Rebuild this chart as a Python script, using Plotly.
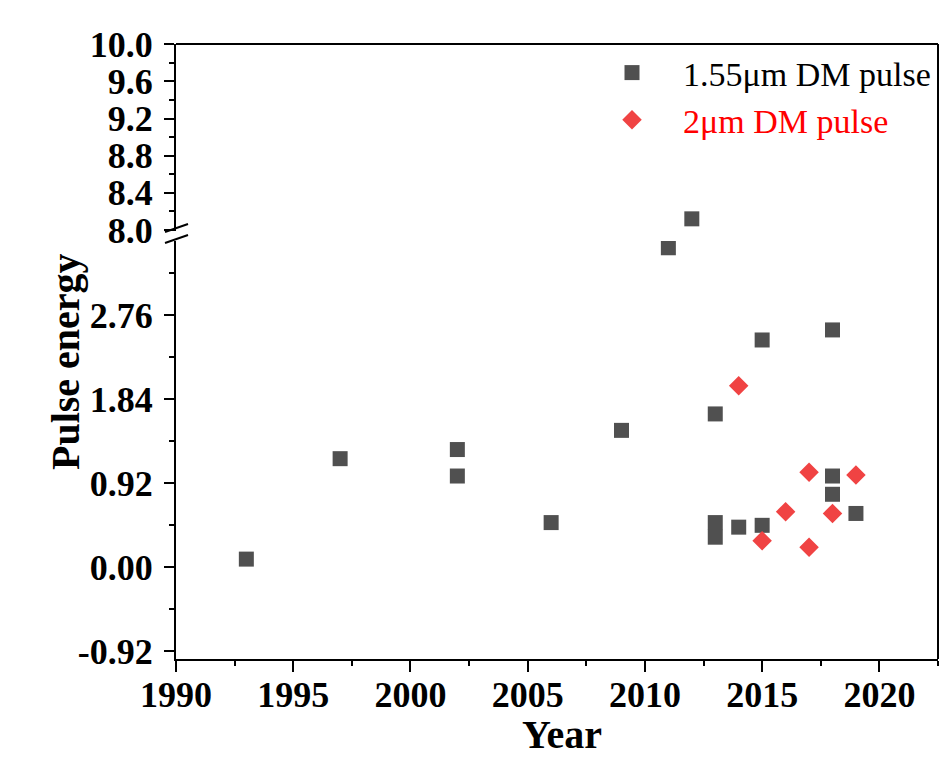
import numpy as np
import plotly.graph_objects as go

# ---- data ----
sq_years = [1993, 1997, 2002, 2002, 2006, 2009, 2011, 2012, 2013, 2013, 2013, 2014, 2015, 2015, 2018, 2018, 2018, 2019]
sq_vals = [0.09, 1.19, 1.29, 1.00, 0.49, 1.50, 3.50, 8.12, 1.68, 0.49, 0.33, 0.44, 0.46, 2.49, 2.60, 1.00, 0.80, 0.59]
dm_years = [2014, 2015, 2016, 2017, 2017, 2018, 2019]
dm_vals = [1.99, 0.29, 0.61, 1.04, 0.22, 0.59, 1.01]
sq_name = "1.55μm DM pulse"
dm_name = "2μm DM pulse"
break_value = 5.0

lower_ticks = [-0.92, 0.0, 0.92, 1.84, 2.76]
lower_labels = ["-0.92", "0.00", "0.92", "1.84", "2.76"]
lower_minor = [-0.46, 0.46, 1.38, 2.30, 3.22]
upper_ticks = [8.0, 8.4, 8.8, 9.2, 9.6, 10.0]
upper_labels = ["8.0", "8.4", "8.8", "9.2", "9.6", "10.0"]
upper_minor = [8.2, 8.6, 9.0, 9.4, 9.8]

FONT = "Liberation Serif"
SQ_COLOR = "#505050"
DM_COLOR = "#F04343"

sx, sy = np.array(sq_years), np.array(sq_vals)
dx, dy = np.array(dm_years), np.array(dm_vals)

fig = go.Figure()
m = sy < break_value
m2 = dy < break_value
fig.add_trace(go.Scatter(x=sx[m], y=sy[m], mode="markers", name=sq_name, legendgroup="sq",
                         marker=dict(symbol="square", size=15, color=SQ_COLOR), xaxis="x", yaxis="y"))
fig.add_trace(go.Scatter(x=dx[m2], y=dy[m2], mode="markers",
                         name="<span style='color:#FF0000'>" + dm_name + "</span>", legendgroup="dm",
                         marker=dict(symbol="diamond", size=15, color=DM_COLOR), xaxis="x", yaxis="y"))
fig.add_trace(go.Scatter(x=sx[~m], y=sy[~m], mode="markers", name=sq_name, legendgroup="sq", showlegend=False,
                         marker=dict(symbol="square", size=15, color=SQ_COLOR), xaxis="x", yaxis="y2"))
fig.add_trace(go.Scatter(x=dx[~m2], y=dy[~m2], mode="markers", name=dm_name, legendgroup="dm", showlegend=False,
                         marker=dict(symbol="diamond", size=15, color=DM_COLOR), xaxis="x", yaxis="y2"))

# page has an 8px body margin; work in page pixel coordinates and subtract it
OFF = 8
FW, FH = 931, 764
L, R, T, B = 176 - OFF, 938 - OFF, 44 - OFF, 659 - OFF
W, H = R - L, B - T


def px(x):
    return (x - OFF - L) / W


def py(y):
    return (B - (y - OFF)) / H


tickfont = dict(family=FONT, size=36, color="black")
axis_common = dict(showline=True, linecolor="black", linewidth=2, ticks="outside", tickcolor="black",
                   tickwidth=2, showgrid=False, zeroline=False, tickfont=tickfont)
minor_common = dict(ticklen=5, tickwidth=2, tickcolor="black", ticks="outside")

fig.update_layout(
    width=FW, height=FH, autosize=False,
    margin=dict(l=L, r=FW - R, t=T, b=FH - B),
    paper_bgcolor="white", plot_bgcolor="white",
    font=dict(family=FONT, color="black"),
    xaxis=dict(range=[1990, 2022.5], tickmode="linear", tick0=1990, dtick=5, ticklen=11,
               tickprefix="<b>", ticksuffix="</b>", ticklabelstandoff=-8,
               minor=dict(dtick=2.5, tick0=1990, **minor_common),
               anchor="y", **axis_common),
    yaxis=dict(domain=[0, py(241)], range=[-1.004, 3.574], tickmode="array",
               tickvals=lower_ticks, ticktext=["<b>" + t + "</b>" for t in lower_labels],
               ticklen=10, ticklabelstandoff=4,
               minor=dict(tickmode="array", tickvals=lower_minor, **minor_common),
               anchor="x", **axis_common),
    yaxis2=dict(domain=[py(231), 1], range=[7.989, 10.003], tickmode="array",
                tickvals=upper_ticks, ticktext=["<b>" + t + "</b>" for t in upper_labels],
                ticklen=10, ticklabelstandoff=4,
                minor=dict(tickmode="array", tickvals=upper_minor, **minor_common),
                anchor="x", **axis_common),
    legend=dict(x=px(581), y=1.0, xanchor="left", yanchor="top", bgcolor="rgba(0,0,0,0)",
                itemwidth=92, font=dict(family=FONT, size=34, color="black"), tracegroupgap=0),
    showlegend=True,
)

fig.add_annotation(text="<b>Pulse energy</b>", xref="paper", yref="paper", x=px(65), y=py(362),
                   textangle=-90, showarrow=False, font=dict(family=FONT, size=40, color="black"),
                   xanchor="center", yanchor="middle")
fig.add_annotation(text="<b>Year</b>", xref="paper", yref="paper", x=px(562), y=py(734),
                   showarrow=False, font=dict(family=FONT, size=40, color="black"),
                   xanchor="center", yanchor="middle")

line = dict(color="black", width=2)
shapes = [
    dict(type="line", xref="paper", yref="paper", x0=0, x1=1, y0=1, y1=1, line=line),
    dict(type="line", xref="paper", yref="paper", x0=1, x1=1, y0=0, y1=1, line=line),
    dict(type="line", xref="paper", yref="paper", x0=px(165), y0=py(232), x1=px(188), y1=py(224), line=line),
    dict(type="line", xref="paper", yref="paper", x0=px(165), y0=py(243), x1=px(188), y1=py(235), line=line),
]
fig.update_layout(shapes=shapes)

fig.write_html("out.html")
